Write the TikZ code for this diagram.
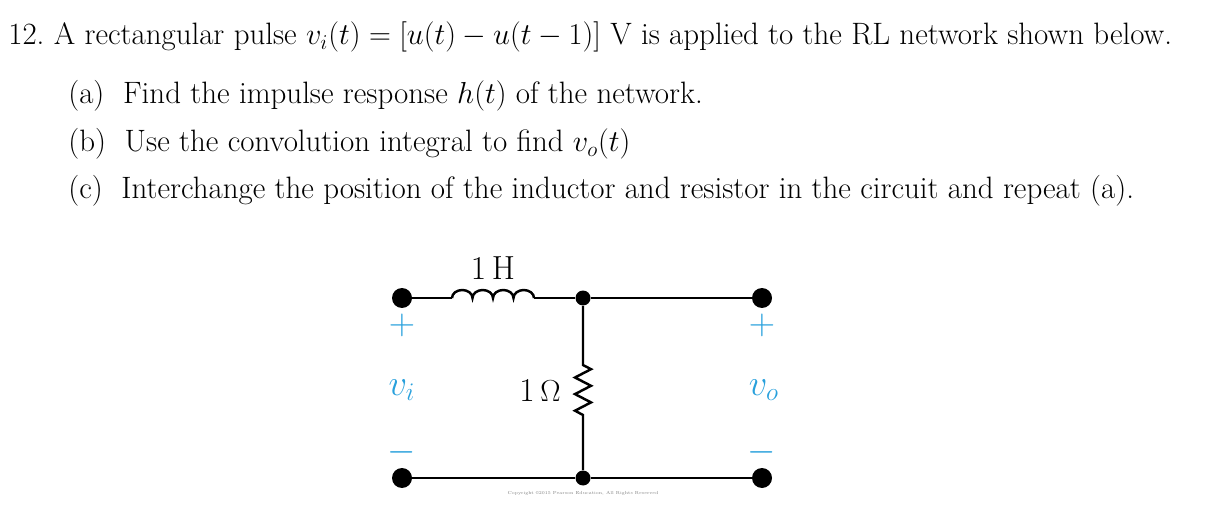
\documentclass[tikz,border=0pt]{standalone}
\usepackage{amsmath}
\begin{document}
\begin{tikzpicture}[x=0.02cm,y=-0.02cm,
  txt/.style={anchor=base west,inner sep=0,font=\fontsize{17.6}{20}\selectfont},
  term/.style={circle,fill=black,inner sep=0,minimum size=0.4cm},
  junc/.style={circle,fill=black,inner sep=0,minimum size=0.3cm},
  wire/.style={line width=1.4pt},
  pol/.style={text=cblue,font=\fontsize{20}{22}\selectfont,inner sep=0}]
\definecolor{cblue}{RGB}{40,160,220}
\useasboundingbox (0,0) rectangle (1212,516);
\node[txt] (l1) at (8,45) {12.\ A rectangular pulse $v_i(t)=[u(t)-u(t-1)]$ V is applied to the RL network shown below.};
\node[txt] (la) at (68,104) {(a)\ \ Find the impulse response $h(t)$ of the network.};
\node[txt] (lb) at (68,152) {(b)\ \ Use the convolution integral to find $v_o(t)$};
\node[txt] (lc) at (68,199) {(c)\ \ Interchange the position of the inductor and resistor in the circuit and repeat (a).};
\node[term] (a) at (402,298) {};
\node[term] (b) at (402,478) {};
\node[term] (c) at (762,298) {};
\node[term] (d) at (762,478) {};
\node[junc] (j1) at (583,298) {};
\node[junc] (j2) at (583,478) {};
\coordinate (L1) at (452,298);
\coordinate (L2) at (534,298);
\coordinate (R1) at (583,365);
\coordinate (R2) at (583,415);
\draw[wire] (a) -- (L1);
\draw[wire] (L1) arc[start angle=180,end angle=0,x radius=10.25,y radius=-8]
  arc[start angle=180,end angle=0,x radius=10.25,y radius=-8]
  arc[start angle=180,end angle=0,x radius=10.25,y radius=-8]
  arc[start angle=180,end angle=0,x radius=10.25,y radius=-8];
\draw[wire] (L2) -- (j1) -- (c);
\draw[wire] (j1) -- (R1) -- ++(8,4.2) -- ++(-16,8.3) -- ++(16,8.3) -- ++(-16,8.3) -- ++(16,8.3) -- ++(-16,8.3) -- (R2) -- (j2);
\draw[wire] (b) -- (j2) -- (d);
\node[font=\fontsize{19}{22}\selectfont] (lh) at (493,268) {1\,H};
\node[font=\fontsize{19}{22}\selectfont] (lr) at (540,390) {1\,$\Omega$};
\node[pol] (p1) at (402,325) {$+$};
\node[pol] (v1) at (402,390) {$v_i$};
\node[pol] (m1) at (402,452) {$-$};
\node[pol] (p2) at (762,325) {$+$};
\node[pol] (v2) at (764,390) {$v_o$};
\node[pol] (m2) at (762,452) {$-$};
\node[font=\fontsize{2.5}{3}\selectfont,text=gray] (cp) at (583,493) {Copyright \copyright 2015 Pearson Education, All Rights Reserved};
\end{tikzpicture}
\end{document}
